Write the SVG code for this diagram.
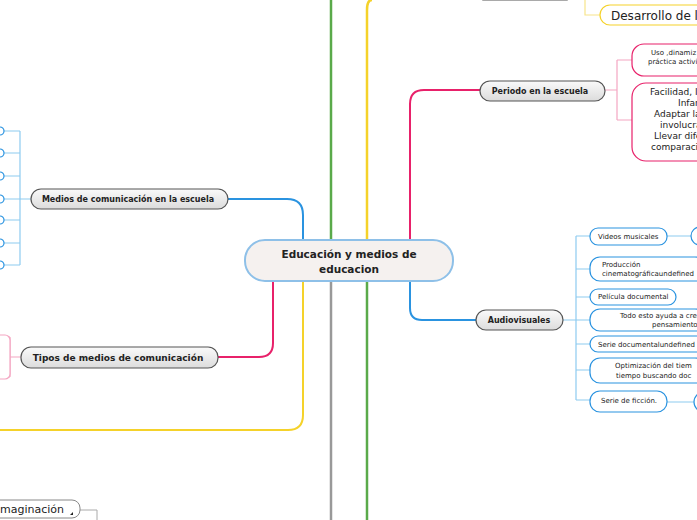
<svg xmlns="http://www.w3.org/2000/svg" width="697" height="520" viewBox="0 0 697 520">
<style>
text{font-family:"DejaVu Sans",Verdana,sans-serif;fill:#222}
.b{font-weight:bold;font-size:8px}
.s{font-size:7px}
.m{font-size:9px}
.n{fill:url(#g);stroke:#555;stroke-width:1.2}
.bl{fill:#fff;stroke:#2a93e0;stroke-width:1.2}
.pk{fill:#fff;stroke:#e8216a;stroke-width:1.2}
.c{fill:none}
</style>
<defs><linearGradient id="g" x1="0" y1="0" x2="0" y2="1"><stop offset="0" stop-color="#fafafa"/><stop offset="1" stop-color="#dcdcdc"/></linearGradient></defs>
<g id="connectors" class="c">
<path d="M331 0V240" stroke="#5aaa4a" stroke-width="2.5"/>
<path d="M331 281V520" stroke="#999" stroke-width="2.5"/>
<path d="M367 240V10Q367 0 372 0" stroke="#f5d22a" stroke-width="2.5"/>
<path d="M367 281V520" stroke="#5aaa4a" stroke-width="2.5"/>
<path d="M303 240V215Q303 199 287 199H228" stroke="#2a93e0" stroke-width="2"/>
<path d="M303 281V415Q303 430 288 430H0" stroke="#f5d22a" stroke-width="2"/>
<path d="M273 281V343Q273 357 259 357H218" stroke="#e8216a" stroke-width="2"/>
<path d="M410 281V308Q410 320 422 320H476" stroke="#2a93e0" stroke-width="2"/>
<path d="M410 240V104Q410 90 424 90H480" stroke="#e8216a" stroke-width="2"/>
<path d="M31 199H20M20 131V265M0 131H20M0 153H20M0 176H20M0 199H20M0 220H20M0 243H20M0 265H20" stroke="#8ecbf0" stroke-width="1.2"/>
<path d="M21 357H10M10 337V377M0 337H10M0 377H10" stroke="#f4a6c2" stroke-width="1.2"/>
<path d="M605 90H617M617 60V120M617 60H632M617 120H632" stroke="#f4a6c2" stroke-width="1.2"/>
<path d="M585 0V15H600" stroke="#f7e48a" stroke-width="1.2"/>
<path d="M563 320H576M576 236V400M576 236H590M576 269H590M576 297H590M576 320H590M576 344H590M576 370H590M576 400H590M667 236H692M667 402H695" stroke="#8ecbf0" stroke-width="1.2"/>
<path d="M80 510H97V520" stroke="#aaa" stroke-width="1"/>
<circle cx="0" cy="131" r="4" class="bl"/><circle cx="0" cy="153" r="4" class="bl"/><circle cx="0" cy="176" r="4" class="bl"/><circle cx="0" cy="199" r="4" class="bl"/><circle cx="0" cy="220" r="4" class="bl"/><circle cx="0" cy="243" r="4" class="bl"/><circle cx="0" cy="265" r="4" class="bl"/>
<rect x="-10" y="335" width="20" height="44" rx="5" class="pk" style="stroke:#f4a6c2"/>
</g>
<g id="center"><rect x="245" y="240" width="208" height="41" rx="20" fill="#f5f1ef" stroke="#8ec0e8" stroke-width="2"/>
<text class="b" x="349" y="258" text-anchor="middle" style="font-size:10.5px">Educación y medios de</text>
<text class="b" x="349" y="273" text-anchor="middle" style="font-size:10.5px">educacion</text></g>
<g id="medios"><rect x="31" y="189" width="197" height="20" rx="10" class="n"/><text class="b" x="128" y="202" text-anchor="middle">Medios de comunicación en la escuela</text></g>
<g id="tipos"><rect x="21" y="347" width="197" height="21" rx="10" class="n"/><text class="b" x="118" y="361" text-anchor="middle" style="font-size:9px">Tipos de medios de comunicación</text></g>
<g id="periodo"><rect x="480" y="81" width="125" height="20" rx="10" class="n"/><text class="b" x="540" y="94" text-anchor="middle">Periodo en la escuela</text></g>
<g id="audio"><rect x="476" y="310" width="87" height="20" rx="10" class="n"/><text class="b" x="519" y="323" text-anchor="middle">Audiovisuales</text></g>
<g id="top"><rect x="480" y="-10" width="90" height="10" rx="4" class="n"/></g>
<g id="desarrollo"><rect x="600" y="5" width="110" height="20" rx="10" fill="#fff" stroke="#f5d22a" stroke-width="1.2"/><text x="611" y="20" style="font-size:12px">Desarrollo de la</text></g>
<g id="uso"><rect x="632" y="44" width="80" height="32" rx="12" class="pk"/><text class="s" x="651" y="55">Uso ,dinamiz</text><text class="s" x="648" y="64">práctica activi</text></g>
<g id="facilidad"><rect x="632" y="83" width="80" height="78" rx="14" class="pk"/>
<text class="m" x="650" y="95">Facilidad, I</text><text class="m" x="678" y="106">Infan</text><text class="m" x="654" y="117">Adaptar la</text><text class="m" x="660" y="128">involucra</text><text class="m" x="654" y="139">Llevar dife</text><text class="m" x="651" y="150">comparacio</text></g>
<g id="videos"><rect x="590" y="228" width="77" height="17" rx="8" class="bl"/><text class="s" x="598" y="239">Videos musicales</text><circle cx="700" cy="236" r="9" class="bl"/></g>
<g id="produccion"><rect x="590" y="257" width="115" height="24" rx="10" class="bl"/><text class="s" x="602" y="267">Producción</text><text class="s" x="602" y="276">cinematográficaundefined</text></g>
<g id="pelicula"><rect x="590" y="289" width="86" height="16" rx="8" class="bl"/><text class="s" x="598" y="299">Película documental</text></g>
<g id="todo"><rect x="590" y="309" width="115" height="22" rx="10" class="bl"/><text class="s" x="620" y="318">Todo esto ayuda a crear</text><text class="s" x="652" y="327">pensamiento.</text></g>
<g id="serie"><rect x="590" y="336" width="115" height="16" rx="8" class="bl"/><text class="s" x="598" y="347">Serie documentalundefined</text></g>
<g id="optim"><rect x="590" y="358" width="115" height="25" rx="10" class="bl"/><text class="s" x="615" y="368">Optimización del tiem</text><text class="s" x="616" y="378">tiempo buscando doc</text></g>
<g id="ficcion"><rect x="590" y="391" width="77" height="21" rx="10" class="bl"/><text class="s" x="601" y="403">Serie de ficción.</text><circle cx="704" cy="402" r="10" class="bl"/></g>
<g id="imaginacion"><rect x="-10" y="500" width="90" height="18" rx="8" fill="#fff" stroke="#888" stroke-width="1"/><text x="0" y="513" style="font-size:11px">maginación</text><path d="M70 515L73 512V515Z" fill="#222"/></g>
</svg>
